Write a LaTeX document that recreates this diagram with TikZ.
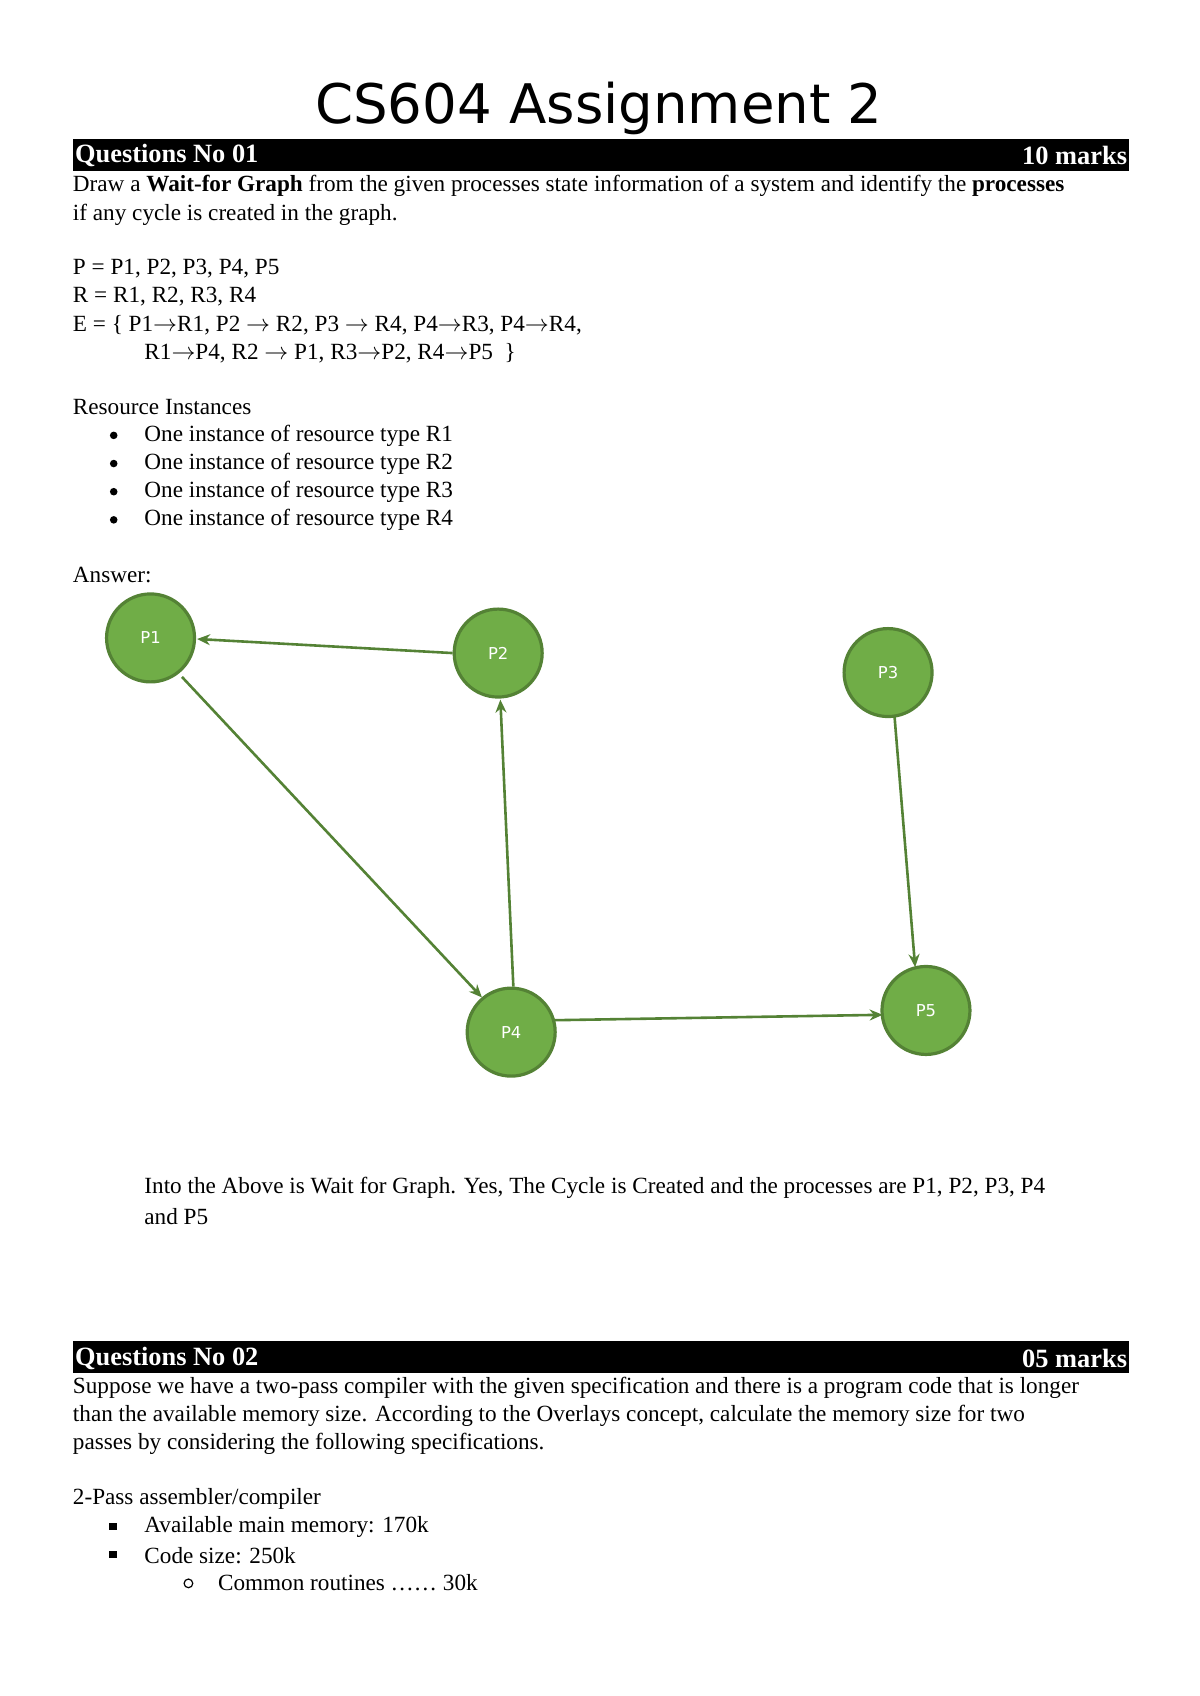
\documentclass[tikz,border=0pt]{standalone}
\usepackage{fontspec}
\setmainfont{Liberation Serif}
\newfontfamily\titlefont{DejaVu Sans}
\newfontfamily\nodefont{DejaVu Sans}
\usetikzlibrary{arrows.meta}
\definecolor{gfill}{HTML}{70AD47}
\definecolor{gline}{HTML}{548235}
\tikzset{
 proc/.style={circle,draw=gline,line width=1.6pt,fill=gfill,minimum size=44pt,inner sep=0pt,font=\nodefont\fontsize{8.2}{10}\selectfont,text=white},
 edge/.style={gline,line width=1.3pt,-{Stealth[length=6.5pt,width=5.5pt]}},
 txt/.style={anchor=west,inner sep=0pt,font=\fontsize{11.6}{14}\selectfont},
 bar/.style={fill=black},
 barfont/.style={inner sep=0pt,text=white,font=\bfseries\fontsize{13.2}{15}\selectfont}
}
\begin{document}
\begin{tikzpicture}[x=0.5417pt,y=-0.5417pt]
\useasboundingbox (0,0) rectangle (1108,1566);
\node[inner sep=0pt,font=\titlefont\fontsize{27.3}{32}\selectfont] (title) at (553,100) {CS604 Assignment 2};
\fill[bar] (67,128) rectangle (1042,158);
\node[barfont,anchor=west] (q1) at (69,144) {Questions No 01};
\node[barfont,anchor=east] (m1) at (1041,144) {10 marks};
\node[txt] (l1) at (67,172) {Draw a \textbf{Wait-for Graph} from the given processes state information of a system and identify the \textbf{processes}};
\node[txt] (l2) at (67,198) {if any cycle is created in the graph.};
\node[txt] (l3) at (67,248) {P = P1, P2, P3, P4, P5};
\node[txt] (l4) at (67,274) {R = R1, R2, R3, R4};
\node[txt] (l5) at (67,300) {E = \{ P1$\rightarrow$R1, P2 $\rightarrow$ R2, P3 $\rightarrow$ R4, P4$\rightarrow$R3, P4$\rightarrow$R4,};
\node[txt] (l6) at (133,326) {R1$\rightarrow$P4, R2 $\rightarrow$ P1, R3$\rightarrow$P2, R4$\rightarrow$P5 \ \}};
\node[txt] (l7) at (67,376) {Resource Instances};
\foreach \i/\r in {0/R1,1/R2,2/R3,3/R4}{
 \fill (105,402+26*\i) circle (3.5);
 \node[txt] (b\i) at (133,402+26*\i) {One instance of resource type \r};
}
\node[txt] (ans) at (67,531) {Answer:};
\node[proc] (P1) at (139,589) {P1};
\node[proc] (P2) at (460,603) {P2};
\node[proc] (P3) at (820,621) {P3};
\node[proc] (P4) at (472,953) {P4};
\node[proc] (P5) at (855,933) {P5};
\draw[edge] (P2.west) -- (182,590);
\draw[edge] (168,625) -- (445,921);
\draw[edge] (474,911) -- (462,646);
\draw[edge] (826,662) -- (845,893);
\draw[edge] (512,942) -- (815,937);
\node[txt] (c1) at (133,1097) {Into the Above is Wait for Graph. Yes, The Cycle is Created and the processes are P1, P2, P3, P4};
\node[txt] (c2) at (133,1123) {and P5};
\fill[bar] (67,1238) rectangle (1042,1268);
\node[barfont,anchor=west] (q2) at (69,1254) {Questions No 02};
\node[barfont,anchor=east] (m2) at (1041,1254) {05 marks};
\node[txt] (d1) at (67,1281) {Suppose we have a two-pass compiler with the given specification and there is a program code that is longer};
\node[txt] (d2) at (67,1307) {than the available memory size. According to the Overlays concept, calculate the memory size for two};
\node[txt] (d3) at (67,1333) {passes by considering the following specifications.};
\node[txt] (d4) at (67,1384) {2-Pass assembler/compiler};
\fill (101,1406) rectangle (108,1413);
\node[txt] (d5) at (133,1410) {Available main memory: 170k};
\fill (101,1432) rectangle (108,1439);
\node[txt] (d6) at (133,1436) {Code size: 250k};
\draw[line width=0.6pt] (174,1462) circle (4);
\node[txt] (d7) at (201,1461) {Common routines \dots\dots\ 30k};
\end{tikzpicture}
\end{document}
